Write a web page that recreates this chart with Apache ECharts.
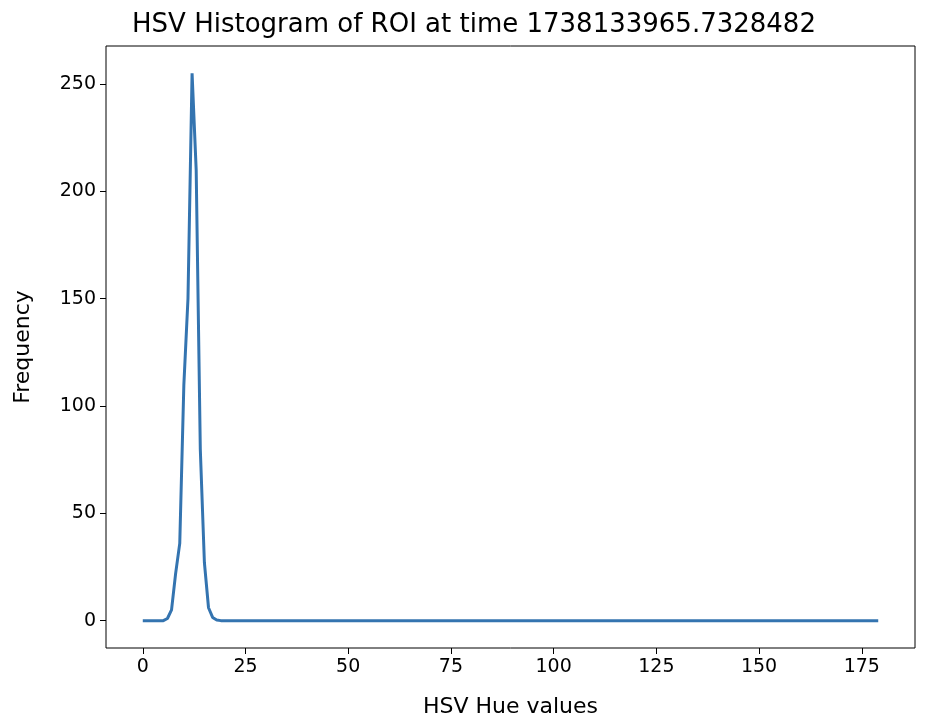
<!DOCTYPE html>
<html>
<head>
<meta charset="utf-8">
<script src="https://cdn.jsdelivr.net/npm/echarts@6/dist/echarts.min.js"></script>
<style>html,body{margin:0;background:#fff}#chart{width:948px;height:724px}</style>
</head>
<body>
<div id="chart"></div>
<script>
// hue bins 0..19, the rest are zero
var headValues = [0, 0, 0, 0, 0, 0, 1, 5, 22, 36, 110, 150, 255, 210, 80, 27, 6, 1.5, 0.3, 0];
var tailValues = new Array(160).fill(0);
var xTicks = [0, 25, 50, 75, 100, 125, 150, 175];
var yTicks = [0, 50, 100, 150, 200, 250];

var values = headValues.concat(tailValues);
var data = [];
for (var i = 0; i < values.length; i++) {
	data.push([i, values[i]]);
}

var font = 'DejaVu Sans';
var chart = echarts.init(document.getElementById('chart'));
chart.setOption({
	animation : false,
	title : {
		text : 'HSV Histogram of ROI at time 1738133965.7328482',
		left : 'center',
		top : 7,
		textStyle : { fontFamily : font, fontSize : 26, fontWeight : 'normal', color : '#000' }
	},
	grid : { left : 106, right : 33, top : 46, bottom : 76, show : true, borderColor : '#000', borderWidth : 1 },
	xAxis : {
		type : 'value',
		min : -8.95,
		max : 187.95,
		name : 'HSV Hue values',
		nameLocation : 'middle',
		nameGap : 48,
		nameTextStyle : { fontFamily : font, fontSize : 22, color : '#000' },
		splitLine : { show : false },
		axisLine : { show : false, onZero : false },
		axisTick : { show : true, customValues : xTicks, length : 6, lineStyle : { color : '#000' } },
		axisLabel : { customValues : xTicks, fontFamily : font, fontSize : 19, color : '#000', margin : 10 }
	},
	yAxis : {
		type : 'value',
		min : -12.75,
		max : 267.75,
		name : 'Frequency',
		nameLocation : 'middle',
		nameGap : 72,
		nameTextStyle : { fontFamily : font, fontSize : 22, color : '#000' },
		splitLine : { show : false },
		axisLine : { show : false, onZero : false },
		axisTick : { show : true, customValues : yTicks, length : 6, lineStyle : { color : '#000' } },
		axisLabel : { customValues : yTicks, fontFamily : font, fontSize : 19, color : '#000', margin : 10 }
	},
	series : [ {
		type : 'line',
		data : data,
		showSymbol : false,
		lineStyle : { color : '#3474b0', width : 3 }
	} ]
});
</script>
</body>
</html>
